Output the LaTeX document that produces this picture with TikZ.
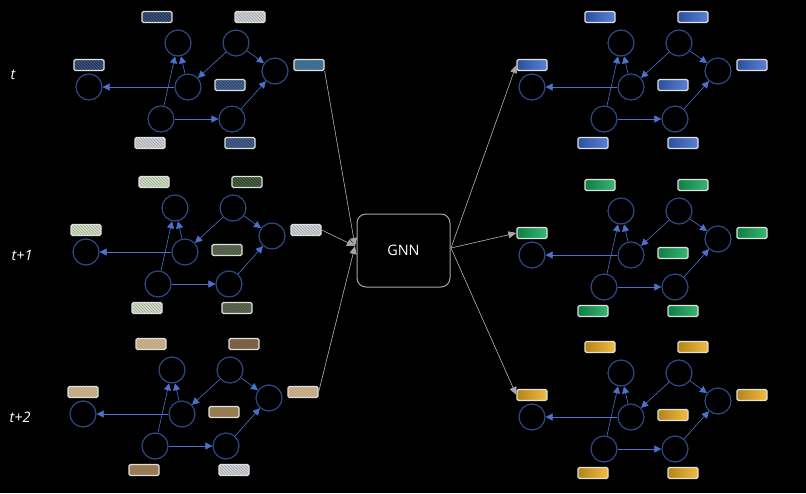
\documentclass[tikz,border=0pt]{standalone}
\usepackage{fontspec}
\setmainfont{Open Sans}
\usetikzlibrary{arrows.meta,patterns}
\definecolor{circ}{HTML}{2E4A86}
\definecolor{edg}{HTML}{4A72CC}
\tikzset{
 nd/.style={circle,draw=circ,line width=1.2pt,minimum size=26pt,inner sep=0pt},
 ed/.style={draw=edg,line width=0.6pt,-{Triangle[length=7pt,width=7pt]}},
 lb/.style={rounded corners=1.5pt,draw=white!88!black,line width=1.3pt,minimum width=30pt,minimum height=11pt,inner sep=0pt},
 hatch/.style={lb,preaction={fill=#1},pattern=north west lines,pattern color=#1!35!gray},
 grad/.style={lb,left color=#1!75!black,right color=#1!85!white},
 gl/.style={draw=gray!70,line width=0.6pt,-{Triangle[length=8pt,width=7pt]},fill=gray!70},
 tl/.style={text=white,font=\itshape\Large}
}
% #1 ox, #2 oy, #3 prefix, #4 label style
\newcommand\grf[4]{%
 \begin{scope}[shift={(#1,#2)}]
 \node[nd] (#3A) at (178,43) {};
 \node[nd] (#3B) at (236,43) {};
 \node[nd] (#3C) at (275,71) {};
 \node[nd] (#3D) at (188,87) {};
 \node[nd] (#3E) at (89,87) {};
 \node[nd] (#3F) at (161,119) {};
 \node[nd] (#3G) at (232,119) {};
 \draw[ed] (#3D) -- (#3E);
 \draw[ed] (#3D) -- (#3A);
 \draw[ed] (#3F) -- (#3A);
 \draw[ed] (#3B) -- (#3D);
 \draw[ed] (#3B) -- (#3C);
 \draw[ed] (#3F) -- (#3G);
 \draw[ed] (#3G) -- (#3C);
 \node[#4=LA] (#3la) at (157,17) {};
 \node[#4=LB] (#3lb) at (250,17) {};
 \node[#4=LE] (#3le) at (89,65) {};
 \node[#4=LD] (#3ld) at (230,85) {};
 \node[#4=LC] (#3lc) at (309,65) {};
 \node[#4=LF] (#3lf) at (150,143) {};
 \node[#4=LG] (#3lg) at (240,143) {};
 \end{scope}}
\newcommand\setL[7]{\colorlet{LA}{#1}\colorlet{LB}{#2}\colorlet{LC}{#3}\colorlet{LD}{#4}\colorlet{LE}{#5}\colorlet{LF}{#6}\colorlet{LG}{#7}}
\begin{document}
\begin{tikzpicture}[x=1pt,y=-1pt]
\fill[black] (0,0) rectangle (806,493);
\useasboundingbox (0,0) rectangle (806,493);
\node[tl] (t0) at (13,75) {t};
\node[tl] (t1) at (22,255) {t+1};
\node[tl] (t2) at (20,417) {t+2};
\definecolor{nv}{HTML}{1E3466}\definecolor{nv2}{HTML}{2A4A80}\definecolor{tl2}{HTML}{2F6A96}
\definecolor{lg}{HTML}{D0D4DA}
\setL{nv}{lg}{tl2}{nv2}{nv}{lg}{nv2}
\grf{0}{0}{a}{hatch}
\definecolor{sg}{HTML}{D0E0C0}\definecolor{dg}{HTML}{2C4A24}\definecolor{mg}{HTML}{4A5A3C}
\setL{sg}{dg}{lg}{mg}{sg}{sg}{mg}
\grf{-3}{165}{b}{hatch}
\definecolor{tn}{HTML}{D8B888}\definecolor{br}{HTML}{7A5A38}\definecolor{bt}{HTML}{A07A48}
\setL{tn}{br}{tn}{bt}{tn}{bt}{lg}
\grf{-6}{327}{c}{hatch}
\definecolor{rb}{HTML}{3C6AD0}\definecolor{rg}{HTML}{14A85A}\definecolor{ry}{HTML}{F0B020}
\setL{rb}{rb}{rb}{rb}{rb}{rb}{rb}
\grf{443}{0}{d}{grad}
\setL{rg}{rg}{rg}{rg}{rg}{rg}{rg}
\grf{443}{168}{e}{grad}
\setL{ry}{ry}{ry}{ry}{ry}{ry}{ry}
\grf{443}{330}{f}{grad}
\node[draw=gray!70,line width=1pt,rounded corners=9pt,minimum width=93pt,minimum height=73pt,text=white,font=\Large] (gnn) at (403.5,250.5) {GNN};
\coordinate (gin) at (355,246);
\coordinate (gout) at (451,248);
\draw[gl] (alc.south east) -- (gin);
\draw[gl] (blc.east) -- (gin);
\draw[gl] (clc.east) -- (gin);
\draw[gl] (gout) -- (dle.west);
\draw[gl] (gout) -- (ele.west);
\draw[gl] (gout) -- (fle.west);
\end{tikzpicture}
\end{document}
